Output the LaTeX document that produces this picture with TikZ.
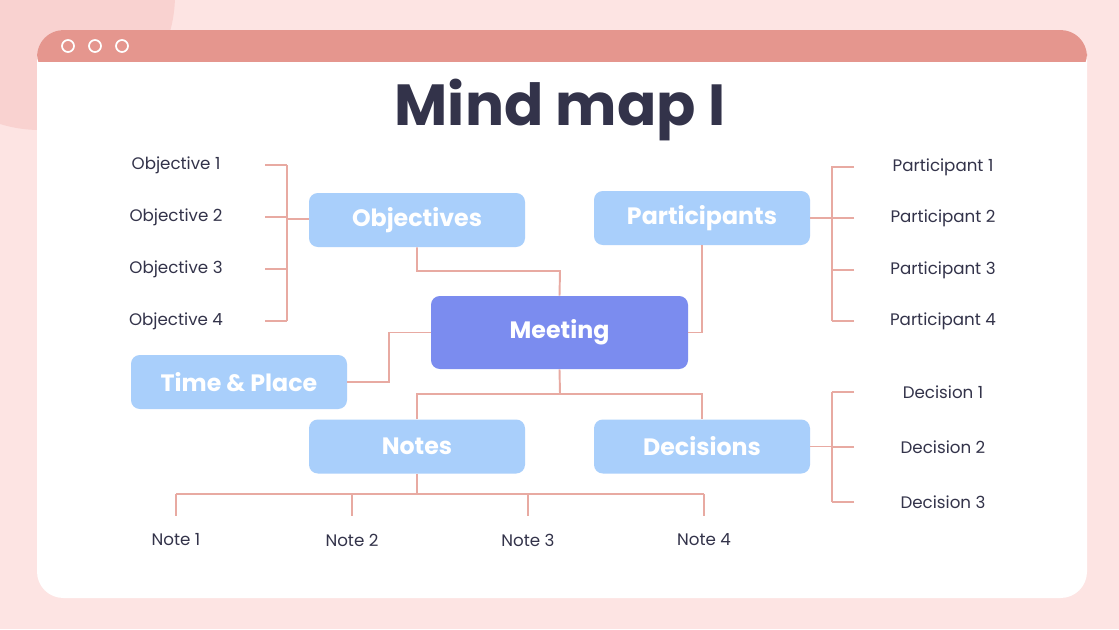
\documentclass[tikz,border=0pt]{standalone}
\usepackage{fontspec}
\setmainfont{Poppins}
\usetikzlibrary{positioning,calc}
\definecolor{bgpink}{HTML}{FDE4E3}
\definecolor{blobpink}{HTML}{F9D2D0}
\definecolor{barred}{HTML}{E5968E}
\definecolor{linkred}{HTML}{E8AAA2}
\definecolor{lightblue}{HTML}{A9CFFB}
\definecolor{mainblue}{HTML}{7B8CEF}
\definecolor{titleink}{HTML}{33334A}
\tikzset{topic/.style={rectangle,rounded corners=5pt,fill=lightblue,text=white,font=\fontsize{13.5}{15}\selectfont\bfseries,minimum width=216*0.02cm,minimum height=54*0.02cm}}
\tikzset{hub/.style={topic,fill=mainblue,minimum width=257*0.02cm,minimum height=73*0.02cm}}
\tikzset{leaf/.style={text=titleink,font=\fontsize{9.5}{11}\selectfont}}
\tikzset{link/.style={linkred,line width=1.1pt}}
\begin{document}
\begin{tikzpicture}[x=0.02cm,y=-0.02cm]
\useasboundingbox (0,0) rectangle (1119,629);
% background and window
\fill[bgpink] (0,0) rectangle (1119,629);
\begin{scope}
\clip (0,0) rectangle (1119,629);
\fill[blobpink] (40,-5) circle (135);
\end{scope}
\fill[white,rounded corners=15pt] (37,30) rectangle (1087,598);
\fill[barred,rounded corners=15pt] (37,30) rectangle (1087,80);
\fill[white] (37,62) rectangle (1087,82);
\foreach \x in {68,95,122} \draw[white,line width=1pt] (\x,46) circle (6);
\node (title) at (560,110) [text=titleink,font=\fontsize{33}{36}\selectfont\bfseries] {Mind map I};
% topics
\node (meet) at (559.5,332.5) [hub] {Meeting};
\node (obj) at (417,220) [topic] {Objectives};
\node (par) at (702,218) [topic] {Participants};
\node (tp) at (239,382) [topic] {Time \& Place};
\node (notes) at (417,446.5) [topic] {Notes};
\node (dec) at (702,446.5) [topic] {Decisions};
% leaves
\foreach \i/\y in {1/165,2/217,3/269,4/321} {
  \node (o\i) at (176,\y) [leaf] {Objective \i};
  \coordinate (os\i) at (265,\y);
  \draw[link] (os\i) -- (287,\y);
}
\draw[link] (287,165) -- (287,321);
\draw[link] (287,219) -- (obj.west |- 287,219);
\foreach \i/\y in {1/167,2/218,3/270,4/321} {
  \node (p\i) at (943,\y) [leaf] {Participant \i};
  \coordinate (ps\i) at (854,\y);
  \draw[link] (ps\i) -- (832,\y);
}
\draw[link] (832,166) -- (832,321);
\draw[link] (par.east) -- (832,218);
\foreach \i/\y in {1/392,2/447,3/502} {
  \node (d\i) at (943,\y) [leaf] {Decision \i};
  \coordinate (ds\i) at (854,\y);
  \draw[link] (ds\i) -- (832,\y);
}
\draw[link] (832,392) -- (832,502);
\draw[link] (dec.east) -- (832,446.5);
\foreach \i/\x in {1/176,2/352,3/528,4/704} {
  \node (n\i) at (\x,540) [leaf] {Note \i};
  \draw[link] (\x,494) -- (\x,516);
}
\draw[link] (176,494) -- (704,494);
\draw[link] (notes.south) -- (417,494);
% links to hub
\draw[link] (obj.south) |- (560,271) -- (meet.north);
\draw[link] (par.south) |- (meet.east);
\draw[link] (tp.east) -- (389,382) |- (meet.west);
\draw[link] (meet.south) -- (560,394);
\draw[link] (notes.north) |- (560,394) -| (dec.north);
\end{tikzpicture}
\end{document}
